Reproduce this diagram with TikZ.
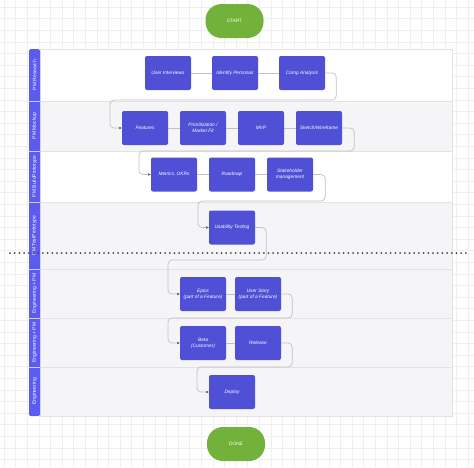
\documentclass[tikz,border=0pt]{standalone}
\usepackage{fontspec}
\setmainfont{Liberation Sans}
\usetikzlibrary{arrows.meta}
\definecolor{boxblue}{HTML}{5050D6}
\definecolor{stripblue}{HTML}{5B5BF0}
\definecolor{termgreen}{HTML}{72B13A}
\definecolor{lanegray}{HTML}{F5F5F8}
\definecolor{laneline}{HTML}{E2E2E6}
\definecolor{gridc}{HTML}{EFEFEF}
\definecolor{connc}{HTML}{C2C2C6}
\definecolor{arrowc}{HTML}{555555}
\tikzset{
  task/.style={draw=none, fill=boxblue, rounded corners=2pt, minimum width=46pt, minimum height=34pt,
    inner sep=1pt, text=white, align=center, font=\fontsize{4.8}{5.8}\selectfont\itshape},
  term/.style={draw=none, fill=termgreen, rounded corners=16pt, minimum width=58pt, minimum height=34pt,
    text=white, font=\fontsize{4.8}{5.8}\selectfont},
  lanelab/.style={rotate=90, text=white, font=\fontsize{5}{6}\selectfont},
  conn/.style={draw=connc, line width=0.7pt, rounded corners=4pt, -{Stealth[length=3pt,width=2.6pt,color=arrowc]}},
  link/.style={draw=connc, line width=0.7pt},
  gridline/.style={draw=gridc, line width=0.35pt}
}
\begin{document}
\begin{tikzpicture}[x=1pt,y=-1pt]
\useasboundingbox (0,0) rectangle (474,467);
\fill[white] (0,0) rectangle (474,467);
% grid
\foreach \i in {0,...,40} \draw[gridline] ({4+\i*11.6},0) -- ({4+\i*11.6},467);
\foreach \i in {0,...,40} \draw[gridline] (0,{7+\i*11.6}) -- (474,{7+\i*11.6});
% lanes
\fill[white] (40,49) rectangle (452,101);
\fill[lanegray] (40,101) rectangle (452,151);
\fill[white] (40,151) rectangle (452,202);
\fill[lanegray] (40,202) rectangle (452,269);
\fill[lanegray] (40,269) rectangle (452,318);
\fill[lanegray] (40,318) rectangle (452,367);
\fill[lanegray] (40,367) rectangle (452,416);
\foreach \yy in {101,151,202,269,318,367} \draw[laneline, line width=0.5pt] (40,\yy) -- (452,\yy);
\draw[laneline, line width=0.5pt] (40,49) rectangle (452,416);
% strip
\fill[stripblue, rounded corners=1.5pt] (29,49) rectangle (40,416);
\foreach \yy in {101,151,202,269,318,367} \draw[white!70!stripblue, line width=0.4pt] (29,\yy) -- (40,\yy);
\node[lanelab] (L1) at (34.5,75) {PM Research};
\node[lanelab] (L2) at (34.5,126) {PM Mockup};
\node[lanelab] (L3) at (34.5,176.5) {PM BuildPrototype};
\node[lanelab] (L4) at (34.5,235.5) {PM TestPrototype};
\node[lanelab] (L5) at (34.5,293.5) {Engineering + PM};
\node[lanelab] (L6) at (34.5,342.5) {Engineering + PM};
\node[lanelab] (L7) at (34.5,391.5) {Engineering};
% terminals
\node[term] (start) at (234.5,21) {START};
\node[term] (done) at (236,444) {DONE};
% tasks
\node[task] (UI) at (168,73) {User Interviews};
\node[task] (IP) at (235,73) {Identify Personas};
\node[task] (CA) at (302,73) {Comp Analysis};
\node[task] (FE) at (145,128) {Features};
\node[task] (PR) at (203,128) {Prioritization /\\Market Fit};
\node[task] (MV) at (261,128) {MVP};
\node[task] (SW) at (319,128) {Sketch/Wireframe};
\node[task] (MO) at (174,174.5) {Metrics, OKRs};
\node[task] (RM) at (232,174.5) {Roadmap};
\node[task] (SM) at (290,174.5) {Stakeholder\\management};
\node[task] (UT) at (232,227.5) {Usability Testing};
\node[task] (EP) at (203,294) {Epics\\(part of a Feature)};
\node[task] (US) at (258,294) {User Story\\(part of a Feature)};
\node[task] (BE) at (203,343) {Beta\\(Customer)};
\node[task] (RE) at (258,343) {Release};
\node[task] (DE) at (232,392) {Deploy};
% in-lane links
\draw[link] (UI.east) -- (IP.west);
\draw[link] (IP.east) -- (CA.west);
\draw[link] (FE.east) -- (PR.west);
\draw[link] (PR.east) -- (MV.west);
\draw[link] (MV.east) -- (SW.west);
\draw[link] (MO.east) -- (RM.west);
\draw[link] (RM.east) -- (SM.west);
\draw[link] (EP.east) -- (US.west);
\draw[link] (BE.east) -- (RE.west);
% cross-lane connectors
\draw[conn] (CA.east) -- ++(11,0) |- (110,100) |- (FE.west);
\draw[conn] (SW.east) -- ++(12,0) |- (139,151) |- (MO.west);
\draw[conn] (SM.east) -- ++(12,0) |- (198,201) |- (UT.west);
\draw[conn] (UT.east) -- ++(11,0) |- (168,260) |- (EP.west);
\draw[conn] (US.east) -- ++(11,0) |- (168,318) |- (BE.west);
\draw[conn] (RE.east) -- ++(11,0) |- (197,367) |- (DE.west);
% dotted divider
\draw[draw=black!72, line width=2pt, line cap=round, dash pattern=on 0pt off 4.7pt] (10,253) -- (466,253);
\end{tikzpicture}
\end{document}
